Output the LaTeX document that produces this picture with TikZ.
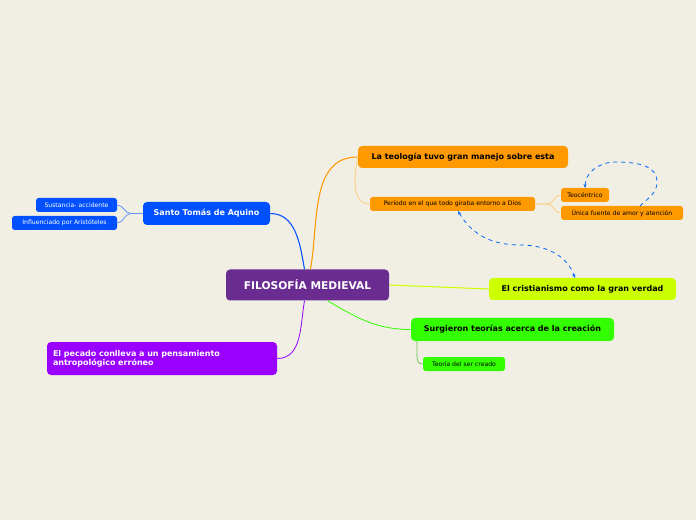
\documentclass[tikz,border=0pt]{standalone}
\usepackage{fontspec}
\setmainfont{DejaVu Sans}
\usetikzlibrary{arrows.meta}
\begin{document}
\begin{tikzpicture}[x=0.75pt,y=-0.75pt,
  box/.style={rounded corners=3pt,inner sep=0pt,align=left,font=\fontsize{6}{7}\selectfont\bfseries},
  small/.style={rounded corners=2pt,inner sep=0pt,font=\fontsize{4.6}{5}\selectfont},
  arr/.style={-{Stealth[length=3pt]},dashed,draw=blue!60!cyan,semithick}]
\fill[fill={rgb,255:red,241;green,239;blue,227}] (0,0) rectangle (696,520);
\useasboundingbox (0,0) rectangle (696,520);
\definecolor{pur}{RGB}{106,44,145}
\definecolor{org}{RGB}{255,153,0}
\definecolor{lim}{RGB}{204,255,0}
\definecolor{grn}{RGB}{51,255,0}
\definecolor{blu}{RGB}{0,80,255}
\definecolor{vio}{RGB}{153,0,255}
\node[box,fill=pur,text=white,minimum width=163*0.75pt,minimum height=31*0.75pt,align=center,font=\fontsize{8}{9}\selectfont\bfseries] (c) at (307.5,285) {FILOSOFÍA MEDIEVAL};
\node[box,fill=org,minimum width=210*0.75pt,minimum height=22*0.75pt,align=center] (t) at (463,157) {La teología tuvo gran manejo sobre esta};
\node[small,fill=org,minimum width=165*0.75pt,minimum height=14*0.75pt] (p) at (452.5,204) {Periodo en el que todo giraba entorno a Dios};
\node[small,fill=org,minimum width=48*0.75pt,minimum height=14*0.75pt] (te) at (585,195) {Teocéntrico};
\node[small,fill=org,minimum width=122*0.75pt,minimum height=14*0.75pt] (u) at (622,213) {Única fuente de amor y atención};
\node[box,fill=lim,minimum width=187*0.75pt,minimum height=22*0.75pt,align=center] (cr) at (582.5,289) {El cristianismo como la gran verdad};
\node[box,fill=grn,minimum width=203*0.75pt,minimum height=23*0.75pt,align=center] (s) at (512.5,329.5) {Surgieron teorías acerca de la creación};
\node[small,fill=grn,minimum width=82*0.75pt,minimum height=14*0.75pt] (tr) at (464,364) {Teoría del ser creado};
\node[box,fill=blu,text=white,minimum width=127*0.75pt,minimum height=23*0.75pt,align=center] (sa) at (206.5,213.5) {Santo Tomás de Aquino};
\node[small,fill=blu,text=white,minimum width=81*0.75pt,minimum height=14*0.75pt] (su) at (76.5,205) {Sustancia- accidente};
\node[small,fill=blu,text=white,minimum width=105*0.75pt,minimum height=14*0.75pt] (in) at (64.5,223) {Influenciado por Aristóteles};
\node[box,fill=vio,text=white,minimum width=230*0.75pt,minimum height=33*0.75pt,text width=218*0.75pt] (pe) at (162,358.5) {El pecado conlleva a un pensamiento\\antropológico erróneo};
% connectors
\draw[org,thick] (c.north)++(3,0) to[out=80,in=180] (t.west);
\draw[lim,thick] (c.east) -- (cr.west);
\draw[grn,semithick] (c.south)++(20,0) to[out=-30,in=180] (s.west);
\draw[blu,thick] (c.north)++(-3,0) to[out=100,in=0] (sa.east);
\draw[vio,semithick] (c.south)++(-3,0) to[out=-100,in=0] (pe.east);
\draw[org!50,semithick] (t.west) to[out=-100,in=180] (p.west);
\draw[org!50,semithick] (p.east) -- ++(12,0) to[out=0,in=180] (te.west);
\draw[org!50,semithick] (p.east) -- ++(12,0) to[out=0,in=180] (u.west);
\draw[blu!60,semithick] (sa.west) -- ++(-12,0) to[out=180,in=0] (su.east);
\draw[blu!60,semithick] (sa.west) -- ++(-12,0) to[out=180,in=0] (in.east);
\draw[grn!60!black!60,semithick] (s.south west)++(6,0) to[out=-80,in=180] (tr.west);
\coordinate (ua) at (640,206);
\coordinate (tt) at (585,188);
\draw[arr] (ua) to[out=45,in=-90] (657,182) to[out=90,in=0] (615,162) to[out=180,in=90] (tt);
\draw[arr,{Stealth[length=3pt]}-{Stealth[length=3pt]}] (458,211) to[out=-60,in=180] (520,245) to[out=0,in=110] (575,278);
\end{tikzpicture}
\end{document}
